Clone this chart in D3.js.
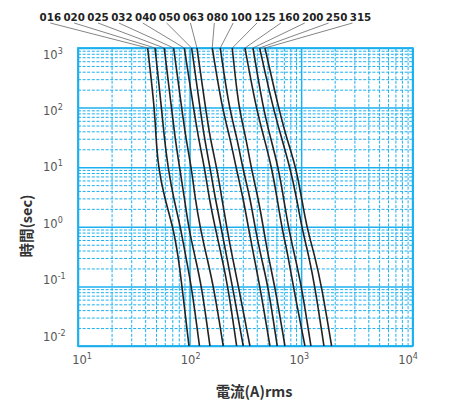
<!DOCTYPE html>
<html>
<head>
<meta charset="utf-8">
<script src="https://cdn.jsdelivr.net/npm/d3@7"></script>
<style>
  body { margin: 0; background: #fff; }
</style>
</head>
<body>
<div id="chart-container"></div>
<script>
// fuse ratings (labels at the top)
const ratings = ["016", "020", "025", "032", "040", "050", "063", "080", "100", "125", "160", "200", "250", "315"];

// time points (sec) where each curve was read
const times = [1000, 100, 31.6, 10, 3.16, 1, 0.316, 0.1, 0.01];

// current (A) of each curve at the time points above
const currents = [
  [42.1, 48.5, 50.0, 52.4, 59.3, 71.0, 79.2, 85.5, 98.8],
  [49.0, 56.0, 59.3, 64.0, 71.4, 82.9, 92.3, 104.4, 122.7],
  [59.3, 68.8, 74.0, 81.2, 89.7, 97.7, 111.8, 128.6, 152.3],
  [72.0, 84.9, 92.3, 103.6, 111.8, 124.0, 142.3, 164.4, 200.4],
  [89.7, 108.4, 119.7, 136.0, 149.2, 168.9, 194.0, 220.9, 264.2],
  [104.4, 124.0, 135.4, 152.3, 168.9, 191.2, 215.0, 242.3, 302.8],
  [116.5, 138.9, 152.3, 174.9, 194.0, 215.0, 241.3, 274.3, 347.6],
  [159.7, 195.1, 230.1, 260.5, 300.9, 335.7, 377.6, 427.3, 525.3],
  [188.4, 225.4, 265.9, 297.9, 347.6, 385.5, 436.3, 507.3, 610.6],
  [241.3, 274.3, 320.2, 354.9, 410.1, 457.5, 507.3, 582.4, 715.9],
  [313.6, 393.6, 464.2, 544.1, 607.0, 668.9, 766.3, 849.7, 1082],
  [370.0, 454.7, 530.8, 623.4, 694.2, 766.3, 879.9, 1010, 1224],
  [424.7, 558.9, 666.2, 793.6, 907.7, 1010, 1175, 1330, 1601],
  [473.8, 626.0, 738.4, 898.3, 1006, 1120, 1330, 1527, 1876]
];

// axis tick labels (exponents of 10)
const xExponents = [1, 2, 3, 4];
const yExponents = [3, 2, 1, 0, -1, -2];

const width = 450;
const height = 410;
const plot = { left: 78, right: 412.7, top: 48, bottom: 346 };
const gridColor = "#1cb0f0";

const svg = d3
  .select("#chart-container")
  .append("svg")
  .attr("width", width)
  .attr("height", height)
  .style("font-family", "'DejaVu Sans', Verdana, sans-serif");

const xScale = d3.scaleLog().domain([10, 1e4]).range([plot.left, plot.right]);
const yScale = d3.scaleLog().domain([1e-2, 1e3]).range([plot.bottom, plot.top]);

// tick labels are spaced a little tighter than the grid in the original
const xLabelScale = d3.scaleLog().domain([10, 1e4]).range([82, 408]);
const yLabelScale = d3.scaleLog().domain([1e-2, 1e3]).range([336, 54]);

const plotW = plot.right - plot.left;
const plotH = plot.bottom - plot.top;

// minor / major values
const xAll = xScale.ticks();
const yAll = yScale.ticks();
const isMajor = (v) => Math.abs(Math.log10(v) - Math.round(Math.log10(v))) < 1e-9;

// dashed minor grid
svg.append("g")
  .attr("transform", `translate(0,${plot.bottom})`)
  .call(d3.axisBottom(xScale).tickValues(xAll.filter((v) => !isMajor(v))).tickSize(-plotH).tickFormat(""))
  .call((g) => g.select(".domain").remove())
  .selectAll("line")
  .style("stroke", gridColor)
  .style("stroke-width", 1)
  .style("stroke-dasharray", "3,1.6");

svg.append("g")
  .attr("transform", `translate(${plot.left},0)`)
  .call(d3.axisLeft(yScale).tickValues(yAll.filter((v) => !isMajor(v))).tickSize(-plotW).tickFormat(""))
  .call((g) => g.select(".domain").remove())
  .selectAll("line")
  .style("stroke", gridColor)
  .style("stroke-width", 1)
  .style("stroke-dasharray", "3,1.6");

// solid decade grid
svg.append("g")
  .attr("transform", `translate(0,${plot.bottom})`)
  .call(d3.axisBottom(xScale).tickValues(xAll.filter(isMajor)).tickSize(-plotH).tickFormat(""))
  .call((g) => g.select(".domain").remove())
  .selectAll("line")
  .style("stroke", gridColor)
  .style("stroke-width", 1.5);

svg.append("g")
  .attr("transform", `translate(${plot.left},0)`)
  .call(d3.axisLeft(yScale).tickValues(yAll.filter(isMajor)).tickSize(-plotW).tickFormat(""))
  .call((g) => g.select(".domain").remove())
  .selectAll("line")
  .style("stroke", gridColor)
  .style("stroke-width", 1.5);

// frame
svg.append("rect")
  .attr("x", plot.left)
  .attr("y", plot.top)
  .attr("width", plotW)
  .attr("height", plotH)
  .attr("fill", "none")
  .attr("stroke", gridColor)
  .attr("stroke-width", 1.8);

// curves
const line = d3.line()
  .x((d) => xScale(d[0]))
  .y((d) => yScale(d[1]))
  .curve(d3.curveBasis);

svg.append("g")
  .selectAll("path")
  .data(currents)
  .enter()
  .append("path")
  .attr("d", (row) => line(row.map((c, i) => [c, times[i]])))
  .attr("fill", "none")
  .attr("stroke", "#222")
  .attr("stroke-width", 1.6);

// rating labels + leader lines
const labelX = (i) => 50.3 + i * 23.86;

svg.append("g")
  .selectAll("line")
  .data(ratings)
  .enter()
  .append("line")
  .attr("x1", (d, i) => labelX(i) - (i > 7 ? 8 : i > 2 ? 3 : 0))
  .attr("y1", 23)
  .attr("x2", (d, i) => xScale(currents[i][0]))
  .attr("y2", plot.top)
  .attr("stroke", "#666")
  .attr("stroke-width", 0.8);

svg.append("g")
  .selectAll("text")
  .data(ratings)
  .enter()
  .append("text")
  .attr("x", (d, i) => labelX(i))
  .attr("y", 20.5)
  .attr("text-anchor", "middle")
  .style("font-weight", "bold")
  .style("font-size", "10.3px")
  .style("fill", "#222")
  .text((d) => d);

// power-of-ten labels
const powLabel = (sel) => {
  sel.append("tspan").text("10");
  sel.append("tspan")
    .attr("dy", -5)
    .style("font-size", "8px")
    .text((d) => d);
};

svg.append("g")
  .selectAll("text")
  .data(xExponents)
  .enter()
  .append("text")
  .attr("x", (d) => xLabelScale(Math.pow(10, d)))
  .attr("y", 364)
  .attr("text-anchor", "middle")
  .style("font-size", "11.5px")
  .style("fill", "#555")
  .call(powLabel);

svg.append("g")
  .selectAll("text")
  .data(yExponents)
  .enter()
  .append("text")
  .attr("x", 43)
  .attr("y", (d) => yLabelScale(Math.pow(10, d)) + 4.5)
  .style("font-size", "11.5px")
  .style("fill", "#555")
  .call(powLabel);

// axis titles
svg.append("text")
  .attr("x", 254)
  .attr("y", 397)
  .attr("text-anchor", "middle")
  .style("font-family", "'Noto Sans CJK JP', 'DejaVu Sans', sans-serif")
  .style("font-weight", "bold")
  .style("font-size", "14.5px")
  .style("fill", "#333")
  .text("電流(A)rms");

svg.append("text")
  .attr("transform", "translate(32,226) rotate(-90)")
  .attr("text-anchor", "middle")
  .style("font-family", "'Noto Sans CJK JP', 'DejaVu Sans', sans-serif")
  .style("font-weight", "bold")
  .style("font-size", "14.5px")
  .style("fill", "#333")
  .text("時間(sec)");
</script>
</body>
</html>
